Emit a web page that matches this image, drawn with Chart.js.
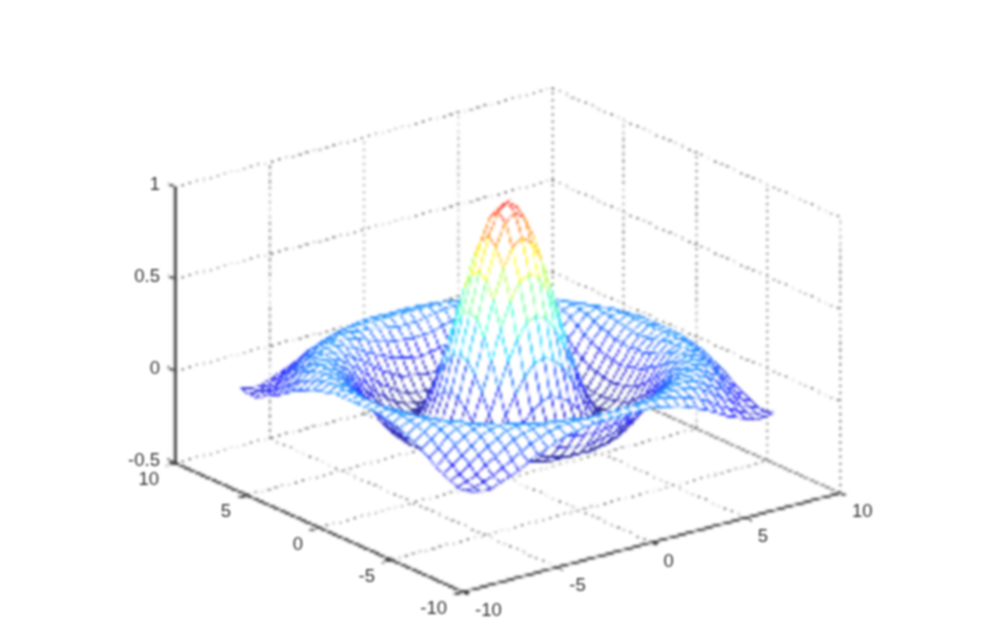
<!DOCTYPE html>
<html>
<head>
<meta charset="utf-8">
<style>
html,body{margin:0;padding:0;background:#fff;width:990px;height:642px;overflow:hidden}
canvas{display:block}
</style>
<script src="https://cdn.jsdelivr.net/npm/chart.js@4"></script>
</head>
<body>
<canvas id="c" width="990" height="642"></canvas>
<script>
const gridHalf = [0,0.5,1,1.5,2,2.5,3,3.5,4,4.5,5,5.5,6,6.5,7,7.5,8];
const zRow00 = [1.00,.96,.84,.66,.45,.24,.05,-.10,-.19,-.22,-.19,-.13,-.05,.03,.09,.13,.12];
const zRow01 = [.96,.92,.80,.63,.43,.22,.03,-.11,-.19,-.22,-.19,-.12,-.04,.04,.09,.13,.12];
const zRow02 = [.84,.80,.70,.54,.35,.16,-.01,-.13,-.20,-.22,-.18,-.11,-.03,.04,.10,.13,.12];
const zRow03 = [.66,.63,.54,.40,.24,.08,-.06,-.16,-.21,-.21,-.17,-.10,-.02,.06,.11,.13,.12];
const zRow04 = [.45,.43,.35,.24,.11,-.02,-.12,-.19,-.22,-.20,-.15,-.07,.01,.07,.12,.13,.11];
const zRow05 = [.24,.22,.16,.08,-.02,-.11,-.18,-.21,-.21,-.18,-.11,-.04,.03,.09,.12,.13,.10];
const zRow06 = [.05,.03,-.01,-.06,-.12,-.18,-.21,-.22,-.19,-.14,-.08,0,.06,.11,.13,.12,.09];
const zRow07 = [-.10,-.11,-.13,-.16,-.19,-.21,-.22,-.20,-.16,-.10,-.03,.04,.09,.12,.13,.11,.07];
const zRow08 = [-.19,-.19,-.20,-.21,-.22,-.21,-.19,-.16,-.10,-.04,.02,.07,.11,.13,.12,.09,.05];
const zRow09 = [-.22,-.22,-.22,-.21,-.20,-.18,-.14,-.10,-.04,.01,.06,.10,.13,.13,.11,.07,.03];
const zRow10 = [-.19,-.19,-.18,-.17,-.15,-.11,-.08,-.03,.02,.06,.10,.12,.13,.12,.09,.04,0];
const zRow11 = [-.13,-.12,-.11,-.10,-.07,-.04,0,.04,.07,.10,.12,.13,.12,.09,.06,.01,-.03];
const zRow12 = [-.05,-.04,-.03,-.02,.01,.03,.06,.09,.11,.13,.13,.12,.10,.06,.02,-.02,-.05];
const zRow13 = [.03,.04,.04,.06,.07,.09,.11,.12,.13,.13,.12,.09,.06,.03,-.01,-.05,-.07];
const zRow14 = [.09,.09,.10,.11,.12,.12,.13,.13,.12,.11,.09,.06,.02,-.01,-.05,-.07,-.09];
const zRow15 = [.13,.13,.13,.13,.13,.13,.12,.11,.09,.07,.04,.01,-.02,-.05,-.07,-.09,-.09];
const zRow16 = [.12,.12,.12,.12,.11,.10,.09,.07,.05,.03,0,-.03,-.05,-.07,-.09,-.09,-.08];
const xyTicks = [-10,-5,0,5,10];
const xyTickLabels = ['-10','-5','0','5','10'];
const zTicks = [-0.5,0,0.5,1];
const zTickLabels = ['-0.5','0','0.5','1'];

// the surface is symmetric about both axes: rows above hold one quadrant
const quadrant = [zRow00,zRow01,zRow02,zRow03,zRow04,zRow05,zRow06,zRow07,zRow08,zRow09,zRow10,zRow11,zRow12,zRow13,zRow14,zRow15,zRow16];
const mirror = a => [...a.slice(1).reverse(), ...a];
const gridVals = [...gridHalf.slice(1).reverse().map(v => -v), ...gridHalf];
const zFull = mirror(quadrant).map(mirror);

// orthographic view of the data box onto the page
function proj(x, y, z) {
  return {
    x: 507.5 + 18.85 * x - 14.4 * y,
    y: 478 - 4.95 * x - 6.45 * y - 184 * (z + 0.5)
  };
}
function jet(z) {
  const t = (z + 0.22) / 1.37;
  const c = v => Math.round(255 * (0.16 + 0.84 * Math.max(0, Math.min(1, v))));
  return `rgb(${c(1.5 - Math.abs(4*t - 3))},${c(1.5 - Math.abs(4*t - 2))},${c(1.5 - Math.abs(4*t - 1))})`;
}

const cells = [];
for (let i = 0; i < gridVals.length - 1; i++) {
  for (let j = 0; j < gridVals.length - 1; j++) {
    const corners = [[i,j],[i+1,j],[i+1,j+1],[i,j+1],[i,j]];
    const pts = corners.map(([a,b]) => proj(gridVals[a], gridVals[b], zFull[a][b]));
    const zs = corners.map(([a,b]) => zFull[a][b]);
    const colors = zs.slice(1).map((z,k) => jet(Math.min(z, zs[k])));
    const cx = (gridVals[i] + gridVals[i+1]) / 2, cy = (gridVals[j] + gridVals[j+1]) / 2;
    cells.push({depth: 0.61*cx + 0.79*cy, pts, colors});
  }
}
// the first dataset is painted last: nearest cell first, its edges above its fill
cells.sort((p,q) => p.depth - q.depth);
const datasets = [];
cells.forEach(c => {
  datasets.push({
    data: c.pts, showLine: true, pointRadius: 0, borderWidth: 1.3,
    borderColor: c.colors[0], fill: false,
    segment: { borderColor: s => c.colors[s.p0DataIndex] }, clip: false
  });
  datasets.push({
    data: c.pts, showLine: true, pointRadius: 0, borderWidth: 0,
    borderColor: 'rgba(0,0,0,0)', backgroundColor: '#ffffff', fill: 'shape', clip: false
  });
});

function line3d(a, b, color, width, dash) {
  datasets.push({ data: [proj(...a), proj(...b)], showLine: true, pointRadius: 0,
    borderColor: color, borderWidth: width, borderDash: dash || [], fill: false, clip: false });
}
// axes and tick marks
line3d([-10,10,-0.5],[-10,10,1],'#333',2.4);
line3d([-10,-10,-0.5],[10,-10,-0.5],'#333',2.2);
line3d([-10,-10,-0.5],[-10,10,-0.5],'#333',2.2);
xyTicks.forEach(t => {
  line3d([t,-10,-0.5],[t,-10.4,-0.5],'#333',1.6);
  line3d([-10,t,-0.5],[-10.5,t,-0.5],'#333',1.6);
});
zTicks.forEach(t => line3d([-10,10,t],[-10,10.55,t],'#333',1.6));
// dotted grid on the floor and back walls
const DOT = [2.4,4.7];
const GRID = '#777';
line3d([10,10,-0.5],[10,-10,-0.5],'#777',1.6);
xyTicks.forEach(t => {
  if (t > -10 && t < 10) {
    line3d([t,-10,-0.5],[t,10,-0.5],GRID,1.6,DOT);
    line3d([-10,t,-0.5],[10,t,-0.5],GRID,1.6,DOT);
  }
  if (t > -10) line3d([t,10,-0.5],[t,10,1],GRID,1.6,DOT);
  if (t > -10 && t < 10) line3d([10,t,-0.5],[10,t,1],GRID,1.6,DOT);
});
line3d([10,-10,-0.5],[10,-10,1],GRID,1.6,DOT);
zTicks.forEach(t => {
  line3d([-10,10,t],[10,10,t],GRID,1.6,DOT);
  if (t > -0.5) line3d([10,10,t],[10,-10,t],GRID,1.6,DOT);
});

new Chart(document.getElementById('c'), {
  type: 'scatter',
  data: { datasets },
  options: {
    responsive: false, animation: false, events: [], devicePixelRatio: 1,
    layout: { padding: 0 },
    plugins: { legend: {display:false}, tooltip: {enabled:false}, title: {display:false} },
    scales: {
      x: { type:'linear', min:0, max:990, display:false },
      y: { type:'linear', min:0, max:642, reverse:true, display:false }
    }
  },
  plugins: [{
    id: 'paper',
    beforeDraw(chart) {
      const {ctx, width, height} = chart;
      ctx.save(); ctx.fillStyle = '#fff'; ctx.fillRect(0,0,width,height); ctx.restore();
    },
    afterDraw(chart) {
      const {ctx, canvas, width, height, scales: {x: sx, y: sy}} = chart;
      ctx.save();
      // the original is a small picture enlarged: sample down, then enlarge
      const small = document.createElement('canvas');
      small.width = 420; small.height = 272;
      const s = small.getContext('2d');
      s.imageSmoothingEnabled = true;
      s.imageSmoothingQuality = 'low';
      s.drawImage(canvas, 0, 0, 420, 272);
      s.globalAlpha = 0.5;
      s.imageSmoothingEnabled = false;
      s.drawImage(canvas, 0, 0, 420, 272);
      ctx.imageSmoothingEnabled = true;
      ctx.imageSmoothingQuality = 'high';
      ctx.drawImage(small, 0, 0, width, height);
      // tick labels
      ctx.font = '18.5px "Liberation Sans", Arial, sans-serif';
      ctx.fillStyle = '#333';
      ctx.textBaseline = 'middle';
      const put = (p, t, align, dx, dy) => {
        ctx.textAlign = align;
        ctx.fillText(t, sx.getPixelForValue(p.x) + dx, sy.getPixelForValue(p.y) + dy);
      };
      zTicks.forEach((t,i) => put(proj(-10,10,t), zTickLabels[i], 'right', -15, -2));
      xyTicks.forEach((t,i) => {
        put(proj(t,-10,-0.5), xyTickLabels[i], 'left', 12, 19);
        put(proj(-10,t,-0.5), xyTickLabels[i], 'right', -16, 17);
      });
      // overall softness of the enlarged original
      ctx.filter = 'blur(0.8px)';
      ctx.drawImage(canvas, 0, 0);
      ctx.restore();
    }
  }]
});
</script>
</body>
</html>
